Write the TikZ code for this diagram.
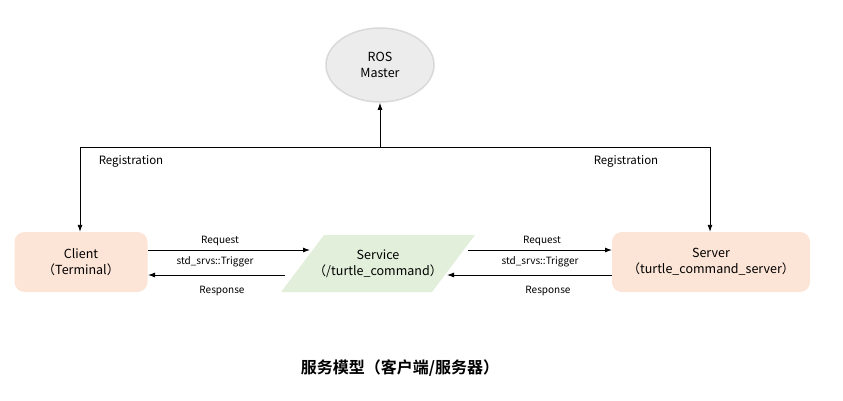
\documentclass[tikz,border=0pt]{standalone}
\usepackage{fontspec}
\setmainfont{Noto Sans CJK SC}
\newfontfamily\cjkb{Noto Sans CJK SC Bold}
\usetikzlibrary{shapes.geometric,arrows.meta}
\definecolor{peach}{HTML}{FCE4D6}
\definecolor{grn}{HTML}{E2EFDA}
\begin{document}
\begin{tikzpicture}[x=1pt,y=-1pt,
  box/.style={draw=none,fill=peach,rounded corners=10pt,minimum width=133pt,minimum height=60pt,align=center,font=\fontsize{12.5}{16}\selectfont},
  lbl/.style={font=\fontsize{10}{12}\selectfont},
  arr/.style={-{Latex[length=7pt,width=5pt]},line width=0.9pt}]
\useasboundingbox (0,0) rectangle (843,400);
\node[ellipse,fill=gray!15,draw=gray!30,line width=1.5pt,minimum width=108pt,minimum height=74pt,align=center,font=\fontsize{12.5}{16}\selectfont] (ros) at (380,65) {ROS\\Master};
\node[box] (cli) at (81,262) {Client\\（Terminal）};
\node[box,minimum width=198pt] (srv) at (711,262) {Server\\（turtle\_command\_server）};
\fill[grn] (324,235) -- (475,235) -- (432,292) -- (281,292) -- cycle;
\node[align=center,font=\fontsize{12.5}{16}\selectfont] (svc) at (378,263.5) {Service\\（/turtle\_command）};
\coordinate (j) at (380,147);
\coordinate (jl) at (80,147);
\coordinate (jr) at (710,147);
\draw[line width=0.9pt] (jl) -- (jr);
\draw[arr] (jl) -- (cli.north -| jl);
\draw[arr] (jr) -- (srv.north -| jr);
\draw[arr] (j) -- (ros.south);
\node[font=\fontsize{11.5}{13}\selectfont] (r1) at (131,161) {Registration};
\node[font=\fontsize{11.5}{13}\selectfont] (r2) at (626,161) {Registration};
\coordinate (a1) at (148,250); \coordinate (a2) at (310,250);
\coordinate (b1) at (285,275); \coordinate (b2) at (148,275);
\coordinate (c1) at (468,250); \coordinate (c2) at (612,250);
\coordinate (d1) at (612,275); \coordinate (d2) at (447,275);
\draw[arr] (a1) -- (a2);
\draw[arr] (b1) -- (b2);
\draw[arr] (c1) -- (c2);
\draw[arr] (d1) -- (d2);
\node[lbl] (t1) at (220,241) {Request};
\node[lbl] (t2) at (215,262) {std\_srvs::Trigger};
\node[lbl] (t3) at (222,291) {Response};
\node[lbl] (t4) at (542,241) {Request};
\node[lbl] (t5) at (540,262) {std\_srvs::Trigger};
\node[lbl] (t6) at (548,291) {Response};
\node[font=\cjkb\fontsize{16}{19}\selectfont] (title) at (400,368) {服务模型（客户端/服务器）};
\end{tikzpicture}
\end{document}
